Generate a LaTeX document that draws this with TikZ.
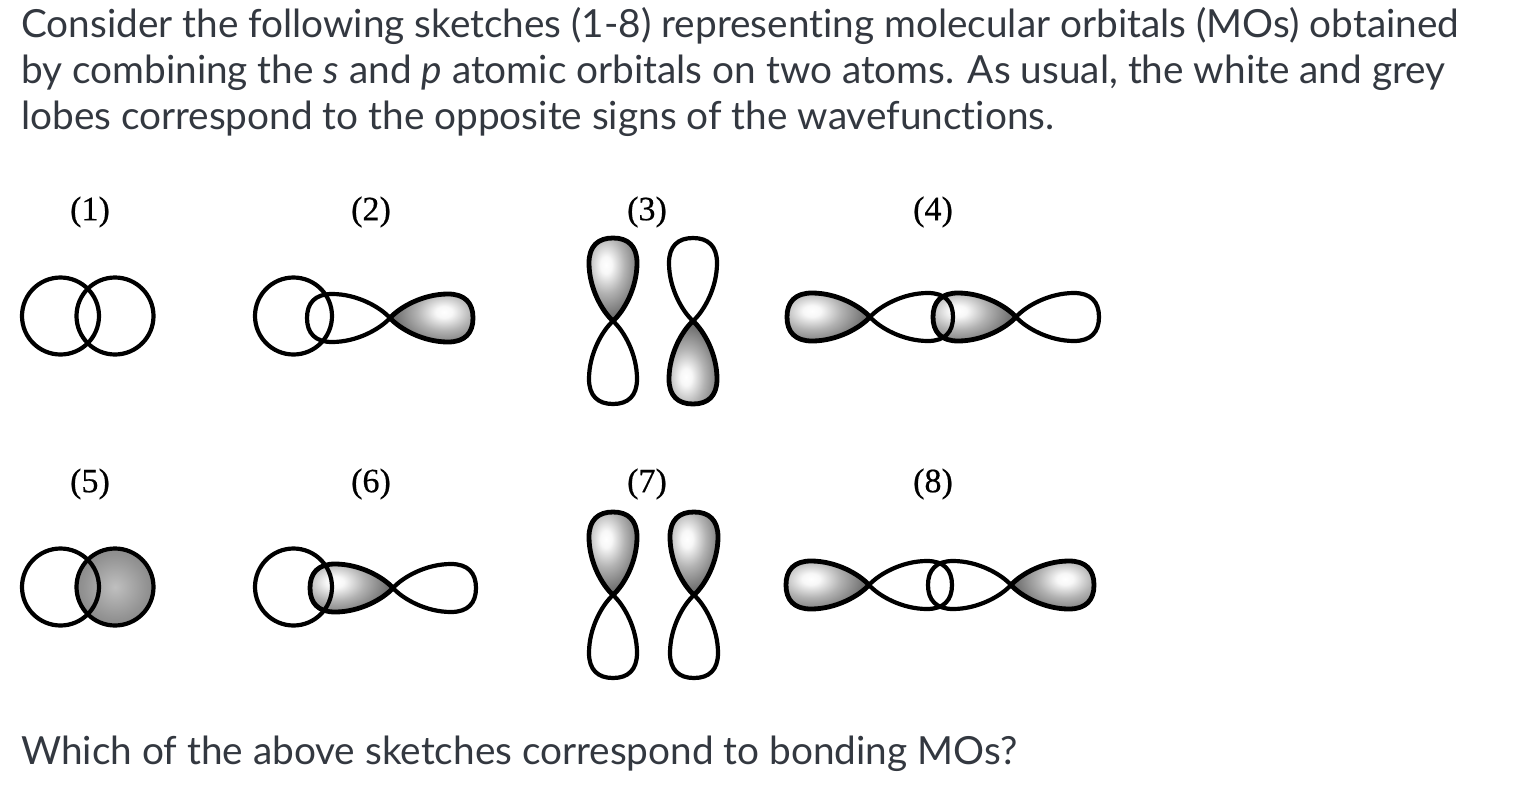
\documentclass[tikz,border=0pt]{standalone}
\usepackage{fontspec}
\setmainfont[Ligatures=NoCommon]{Lato}
\newfontfamily\labelfont[FakeBold=0.5]{Liberation Serif}
\definecolor{bodytext}{rgb}{.2,.22,.25}
\pgfdeclareradialshading{lobeg}{\pgfpointorigin}{rgb(0bp)=(1,1,1);rgb(4bp)=(.97,.97,.97);rgb(13bp)=(.7,.7,.7);rgb(23bp)=(.46,.46,.46);rgb(35bp)=(.27,.27,.27);rgb(50bp)=(.04,.04,.04)}
\pgfdeclareradialshading{sphereg}{\pgfpointorigin}{rgb(0bp)=(.75,.75,.75);rgb(20bp)=(.58,.58,.58);rgb(50bp)=(.36,.36,.36)}
\tikzset{
  orb/.style={draw=black,line width=4.2pt,line join=round},
  para/.style={anchor=base west,inner sep=0pt,font=\fontsize{38.75}{46}\selectfont,text=bodytext},
  num/.style={anchor=center,inner sep=0pt,font=\labelfont\fontsize{34}{34}\selectfont,text=black},
  lobeshade/.style={shading=lobeg}
}
\newcommand{\lobeshape}{(0,0) .. controls (10,-11) and (33,-24) .. (58,-24) .. controls (75,-24) and (83,-15) .. (83,0) .. controls (83,15) and (75,24) .. (58,24) .. controls (33,24) and (10,11) .. (0,0) -- cycle}
\newcommand{\wlobe}[3]{\draw[orb,shift={(#1,#2)},rotate=#3] \lobeshape;}
% tip x, tip y, angle, highlight offset dx, dy, radii rx, ry
\newcommand{\slobe}[7]{%
  \begin{scope}
    \clip[shift={(#1,#2)},rotate=#3] \lobeshape;
    \fill[black] (#1-100,#2-100) rectangle (#1+100,#2+100);
    \shade[lobeshade] (#1+#4,#2+#5) ellipse [x radius=#6pt,y radius=#7pt];
  \end{scope}
  \draw[orb,line width=4.8pt,shift={(#1,#2)},rotate=#3] \lobeshape;}
\newcommand{\hR}[2]{\slobe{#1}{#2}{0}{54}{-6}{52}{36}}
\newcommand{\hL}[2]{\slobe{#1}{#2}{180}{-58}{-6}{56}{36}}
\newcommand{\vU}[2]{\slobe{#1}{#2}{90}{-7}{-56}{36}{54}}
\newcommand{\vD}[2]{\slobe{#1}{#2}{-90}{-7}{56}{36}{54}}
\begin{document}
\begin{tikzpicture}[x=1pt,y=-1pt]
\useasboundingbox (0,0) rectangle (1526,790);
\fill[white] (0,0) rectangle (1526,790);
\node[para] (l1) at (21,37.7) {Consider the following sketches (1-8) representing molecular orbitals (MOs) obtained};
\node[para] (l2) at (21,83.7) {by combining the \textit{s} and \textit{p} atomic orbitals on two atoms. As usual, the white and grey};
\node[para] (l3) at (21,129.7) {lobes correspond to the opposite signs of the wavefunctions.};
\node[para] (l4) at (21,764.7) {Which of the above sketches correspond to bonding MOs?};
\node[num] (n1) at (90,212) {(1)};
\node[num] (n2) at (371,212) {(2)};
\node[num] (n3) at (647,212) {(3)};
\node[num] (n4) at (933,212) {(4)};
\node[num] (n5) at (90,484) {(5)};
\node[num] (n6) at (371,484) {(6)};
\node[num] (n7) at (647,484) {(7)};
\node[num] (n8) at (933,484) {(8)};
% 1
\draw[orb] (60.5,316) circle (38.5pt);
\draw[orb] (115,316) circle (38.5pt);
% 2
\hR{390}{318}
\wlobe{390}{318}{180}
\draw[orb] (293.5,316) circle (38.5pt);
% 3
\vU{613}{321}
\wlobe{613}{321}{-90}
\wlobe{693}{321}{90}
\vD{693}{321}
% 4
\hL{870}{317}
\hL{1016}{317}
\wlobe{870}{317}{0}
\wlobe{1016}{317}{0}
% 5
\shade[shading=sphereg] (115,587) circle (38.5pt);
\draw[orb] (115,587) circle (38.5pt);
\draw[orb] (60.5,587) circle (38.5pt);
% 6
\hL{393}{588}
\wlobe{393}{588}{0}
\draw[orb] (293.5,587) circle (38.5pt);
% 7
\vU{613}{595}
\wlobe{613}{595}{-90}
\vU{694}{595}
\wlobe{694}{595}{-90}
% 8
\hL{869}{585}
\hR{1011}{585}
\wlobe{869}{585}{0}
\wlobe{1011}{585}{180}
\end{tikzpicture}
\end{document}
